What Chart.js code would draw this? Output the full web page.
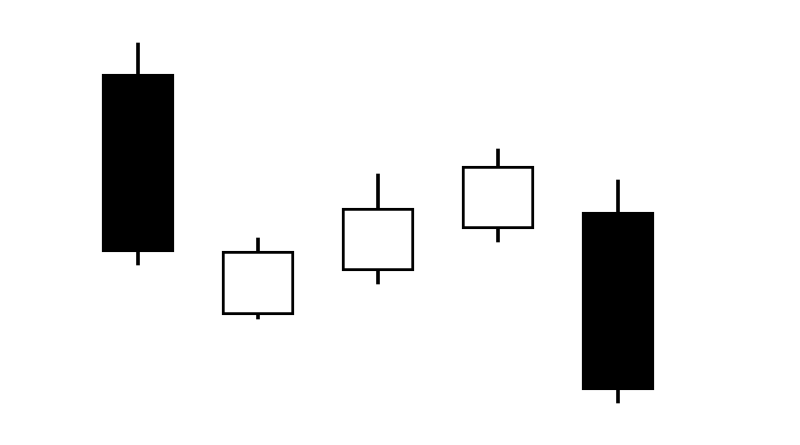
<!DOCTYPE html>
<html>
<head>
<meta charset="utf-8">
<script src="https://cdn.jsdelivr.net/npm/chart.js@4/dist/chart.umd.min.js"></script>
<style>
  html, body { margin: 0; padding: 0; background: #fff; }
  #wrap { width: 800px; height: 445px; }
</style>
</head>
<body>
<div id="wrap"><canvas id="c"></canvas></div>
<script>
(() => {
    'use strict';

    // ===== Datos (velas) =====
    const labels = ['1', '2', '3', '4', '5'];
    const open   = [371, 130, 174, 216, 233];
    const close  = [193, 194, 237, 279, 55];
    const high   = [402, 207, 271, 296, 265];
    const low    = [180, 126, 161, 203, 42];

    // bajista = negro relleno, alcista = blanco con borde
    const bodyFill = open.map((o, i) => (close[i] < o ? '#000000' : '#ffffff'));

    new Chart(document.getElementById('c').getContext('2d'), {
        type: 'bar',
        data: {
            labels,
            datasets: [
                // cuerpo (primero = dibujado encima)
                {
                    data: labels.map((_, i) => [open[i], close[i]]),
                    backgroundColor: bodyFill,
                    borderColor: '#000000',
                    borderWidth: 3,
                    borderSkipped: false,
                    barThickness: 72,
                    grouped: false
                },
                // mecha
                {
                    data: labels.map((_, i) => [low[i], high[i]]),
                    backgroundColor: '#000000',
                    borderWidth: 0,
                    barThickness: 3,
                    grouped: false
                }
            ]
        },
        options: {
            responsive: true,
            maintainAspectRatio: false,
            animation: false,
            layout: { padding: { left: 78, right: 122, top: 0, bottom: 0 } },
            plugins: { legend: { display: false }, tooltip: { enabled: false } },
            scales: {
                x: { display: false },
                y: { display: false, min: 0, max: 445 }
            }
        }
    });
})();
</script>
</body>
</html>
